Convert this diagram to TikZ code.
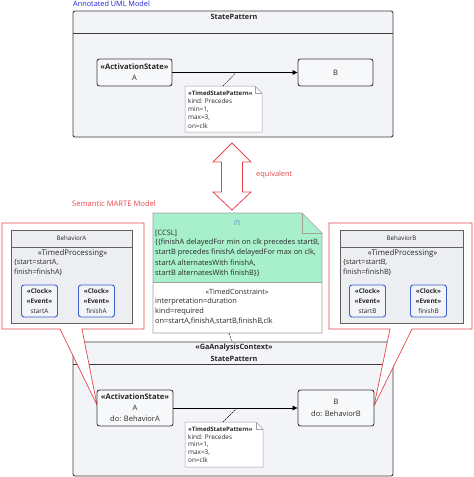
\documentclass[tikz,border=0pt]{standalone}
\usepackage{fontspec}
\setmainfont{Open Sans}
\usetikzlibrary{arrows.meta}
\definecolor{frameFill}{RGB}{242,244,247}
\definecolor{frameDraw}{RGB}{60,60,60}
\definecolor{stateFill}{RGB}{247,248,250}
\definecolor{noteDraw}{RGB}{160,160,160}
\definecolor{calloutRed}{RGB}{232,70,78}
\definecolor{titleBlue}{RGB}{30,30,210}
\definecolor{mint}{RGB}{168,240,204}
\definecolor{boxBlue}{RGB}{58,95,200}
\definecolor{innerFill}{RGB}{236,238,241}
\definecolor{innerDraw}{RGB}{96,96,96}
\definecolor{txt}{RGB}{40,40,40}
\tikzset{
  framebox/.style={draw=frameDraw, fill=frameFill, line width=0.9pt, rounded corners=2pt},
  statebox/.style={draw=frameDraw, fill=stateFill, line width=0.9pt, rounded corners=2.5pt, minimum width=75pt, minimum height=27pt, inner sep=0pt},
  notebox/.style={draw=noteDraw, fill=white, line width=0.5pt},
  callout/.style={draw=calloutRed, fill=white, line width=0.7pt},
  innerbox/.style={draw=innerDraw, fill=innerFill, line width=0.6pt},
  bluebox/.style={draw=boxBlue, fill=frameFill, line width=0.9pt, rounded corners=2.5pt, minimum width=36pt, minimum height=32pt, inner sep=0pt},
  lbl/.style={inner sep=0pt, text=txt},
  transition/.style={draw=black, line width=0.7pt, -{Triangle[length=5pt,width=4.5pt]}},
  anchorline/.style={draw=black, line width=0.4pt, dash pattern=on 2pt off 1pt},
}
\begin{document}
\begin{tikzpicture}[x=1pt, y=-1pt]
\useasboundingbox (0,0) rectangle (474,477);
% ---------- Titles ----------
\node[inner sep=0pt, anchor=west, text=titleBlue, font=\fontsize{7.3}{8}\selectfont] (t1) at (73,4) {Annotated UML Model};
\node[inner sep=0pt, anchor=west, text=calloutRed, font=\fontsize{7.4}{8}\selectfont] (eq) at (256,175) {equivalent};
\node[inner sep=0pt, anchor=west, text=calloutRed, font=\fontsize{7.6}{8}\selectfont] (t2) at (72,204) {Semantic MARTE Model};

% ---------- Top frame ----------
\draw[framebox] (73,11) rectangle (393,137);
\draw[frameDraw, line width=0.9pt] (73,33) -- (393,33);
\node[lbl, font=\bfseries\fontsize{7.3}{8}\selectfont] (tp) at (234,17) {StatePattern};

\node[statebox] (A1) at (134.5,72.5) {};
\node[lbl, font=\bfseries\fontsize{7.6}{8}\selectfont] (A1s) at (134.5,67) {«ActivationState»};
\node[lbl, font=\fontsize{7.5}{8}\selectfont] (A1n) at (134.5,78) {A};
\node[statebox] (B1) at (335.5,72.5) {};
\node[lbl, font=\fontsize{7.5}{8}\selectfont] (B1n) at (335.5,73) {B};
\draw[transition] (A1.east) -- (B1.west);
\coordinate (m1) at (236,72.5);

\draw[notebox] (185,86) -- (255,86) -- (262,93) -- (262,132) -- (185,132) -- cycle;
\draw[noteDraw, line width=0.5pt] (255,86) -- (255,93) -- (262,93);
\coordinate (n1) at (223,86);
\node[lbl, anchor=west, font=\bfseries\fontsize{6}{6}\selectfont] at (188,93) {«TimedStatePattern»};
\node[lbl, anchor=west, font=\fontsize{6.4}{6}\selectfont] at (188,101.2) {kind: Precedes};
\node[lbl, anchor=west, font=\fontsize{6.4}{6}\selectfont] at (188,109.4) {min=1,};
\node[lbl, anchor=west, font=\fontsize{6.4}{6}\selectfont] at (188,117.6) {max=3,};
\node[lbl, anchor=west, font=\fontsize{6.4}{6}\selectfont] at (188,125.8) {on=clk};
\draw[anchorline] (n1) -- (m1);

% ---------- Equivalence double arrow ----------
\draw[draw=calloutRed, fill=white, line width=0.8pt, line join=miter]
  (232,143) -- (251,162) -- (242.5,162) -- (242.5,192) -- (251,192) -- (232,210)
  -- (213,192) -- (221.5,192) -- (221.5,162) -- (213,162) -- cycle;

% ---------- Bottom frame ----------
\draw[framebox] (73,342) rectangle (393,476);
\draw[frameDraw, line width=0.9pt] (73,364) -- (393,364);
\node[lbl, font=\bfseries\fontsize{7.3}{8}\selectfont] (gac) at (234,347.5) {«GaAnalysisContext»};
\node[lbl, font=\bfseries\fontsize{7.3}{8}\selectfont] (sp2) at (234,359) {StatePattern};
\coordinate (ftop) at (232,342);

% ---------- Callouts ----------
\draw[callout] (2,223) -- (144,223) -- (144,329) -- (82,329) -- (97,405) -- (60,329) -- (2,329) -- cycle;
\draw[callout] (329,223) -- (472,223) -- (472,329) -- (412,329) -- (374,406) -- (390,329) -- (329,329) -- cycle;

% Behavior A
\draw[innerbox] (11,230) rectangle (132,323);
\draw[innerDraw, line width=0.6pt] (11,247) -- (132,247);
\node[lbl, font=\fontsize{6.2}{7}\selectfont] (bA) at (71.5,238.5) {BehaviorA};
\node[lbl, font=\fontsize{7.8}{9}\selectfont] at (72.5,253) {«TimedProcessing»};
\node[lbl, anchor=west, font=\fontsize{7.2}{7}\selectfont] at (14,262.5) {\{start=startA,};
\node[lbl, anchor=west, font=\fontsize{7.2}{7}\selectfont] at (14,272.5) {finish=finishA\}};
\node[bluebox] (cA1) at (39.5,301) {};
\node[bluebox] (cA2) at (96.5,301) {};
\foreach \xx/\nm in {39.5/startA, 96.5/finishA}{
  \node[lbl, font=\bfseries\fontsize{6.4}{7}\selectfont] at (\xx,291.5) {«Clock»};
  \node[lbl, font=\bfseries\fontsize{6.4}{7}\selectfont] at (\xx,301) {«Event»};
  \node[lbl, font=\fontsize{6.4}{7}\selectfont] at (\xx,311) {\nm};
}

% Behavior B
\draw[innerbox] (340,230) rectangle (463,323);
\draw[innerDraw, line width=0.6pt] (340,247) -- (463,247);
\node[lbl, font=\fontsize{6.2}{7}\selectfont] (bB) at (401.5,238.5) {BehaviorB};
\node[lbl, font=\fontsize{7.8}{9}\selectfont] at (402.5,253) {«TimedProcessing»};
\node[lbl, anchor=west, font=\fontsize{7.2}{7}\selectfont] at (343,262.5) {\{start=startB,};
\node[lbl, anchor=west, font=\fontsize{7.2}{7}\selectfont] at (343,272.5) {finish=finishB\}};
\node[bluebox] (cB1) at (367.5,301) {};
\node[bluebox] (cB2) at (428.5,301) {};
\foreach \xx/\nm in {367.5/startB, 428.5/finishB}{
  \node[lbl, font=\bfseries\fontsize{6.4}{7}\selectfont] at (\xx,291.5) {«Clock»};
  \node[lbl, font=\bfseries\fontsize{6.4}{7}\selectfont] at (\xx,301) {«Event»};
  \node[lbl, font=\fontsize{6.4}{7}\selectfont] at (\xx,311) {\nm};
}

% ---------- CCSL note ----------
\fill[mint] (153,213) -- (302,213) -- (322,233) -- (322,282) -- (153,282) -- cycle;
\fill[white] (153,282) rectangle (322,333);
\draw[noteDraw, line width=0.6pt] (153,213) -- (302,213) -- (322,233) -- (322,333) -- (153,333) -- cycle;
\draw[noteDraw, line width=0.6pt] (302,213) -- (302,233) -- (322,233);
\draw[noteDraw, line width=0.6pt] (153,282) -- (322,282);
\coordinate (ccslb) at (229,333);
\node[lbl, text=boxBlue, font=\fontsize{5}{5}\selectfont] at (237,223) {[?]};
\node[lbl, anchor=west, font=\fontsize{7.4}{7}\selectfont] at (155,233) {[CCSL]};
\node[lbl, anchor=west, font=\fontsize{7.4}{7}\selectfont] at (155,243) {\{\{finishA delayedFor min on clk precedes startB,};
\node[lbl, anchor=west, font=\fontsize{7.4}{7}\selectfont] at (155,253) {startB precedes finishA delayedFor max on clk,};
\node[lbl, anchor=west, font=\fontsize{7.4}{7}\selectfont] at (155,263) {startA alternatesWith finishA,};
\node[lbl, anchor=west, font=\fontsize{7.4}{7}\selectfont] at (155,273) {startB alternatesWith finishB\}\}};
\node[lbl, font=\fontsize{7.2}{7}\selectfont] at (237,292) {«TimedConstraint»};
\node[lbl, anchor=west, font=\fontsize{7.4}{7}\selectfont] at (155,301.5) {interpretation=duration};
\node[lbl, anchor=west, font=\fontsize{7.4}{7}\selectfont] at (155,311.5) {kind=required};
\node[lbl, anchor=west, font=\fontsize{7.4}{7}\selectfont] at (155,321.5) {on=startA,finishA,startB,finishB,clk};
\draw[anchorline] (ccslb) -- (ftop);

% ---------- Bottom states ----------
\node[statebox, minimum width=76pt, minimum height=36pt] (A2) at (135,408) {};
\node[lbl, font=\bfseries\fontsize{7.6}{8}\selectfont] at (135,397) {«ActivationState»};
\node[lbl, font=\fontsize{7.5}{8}\selectfont] at (135,408) {A};
\node[lbl, font=\fontsize{7.5}{8}\selectfont] at (135,419) {do: BehaviorA};
\node[statebox, minimum width=76pt, minimum height=36pt] (B2) at (336,408) {};
\node[lbl, font=\fontsize{7.5}{8}\selectfont] at (336,402) {B};
\node[lbl, font=\fontsize{7.5}{8}\selectfont] at (336,413.5) {do: BehaviorB};
\draw[transition] (A2.east) -- (B2.west);
\coordinate (m2) at (237,408);

\draw[notebox] (185,422) -- (256,422) -- (263,429) -- (263,467) -- (185,467) -- cycle;
\draw[noteDraw, line width=0.5pt] (256,422) -- (256,429) -- (263,429);
\coordinate (n2) at (223,422);
\node[lbl, anchor=west, font=\bfseries\fontsize{6}{6}\selectfont] at (188,429) {«TimedStatePattern»};
\node[lbl, anchor=west, font=\fontsize{6.4}{6}\selectfont] at (188,437) {kind: Precedes};
\node[lbl, anchor=west, font=\fontsize{6.4}{6}\selectfont] at (188,444.7) {min=1,};
\node[lbl, anchor=west, font=\fontsize{6.4}{6}\selectfont] at (188,452.4) {max=3,};
\node[lbl, anchor=west, font=\fontsize{6.4}{6}\selectfont] at (188,460) {on=clk};
\draw[anchorline] (n2) -- (m2);
\end{tikzpicture}
\end{document}
